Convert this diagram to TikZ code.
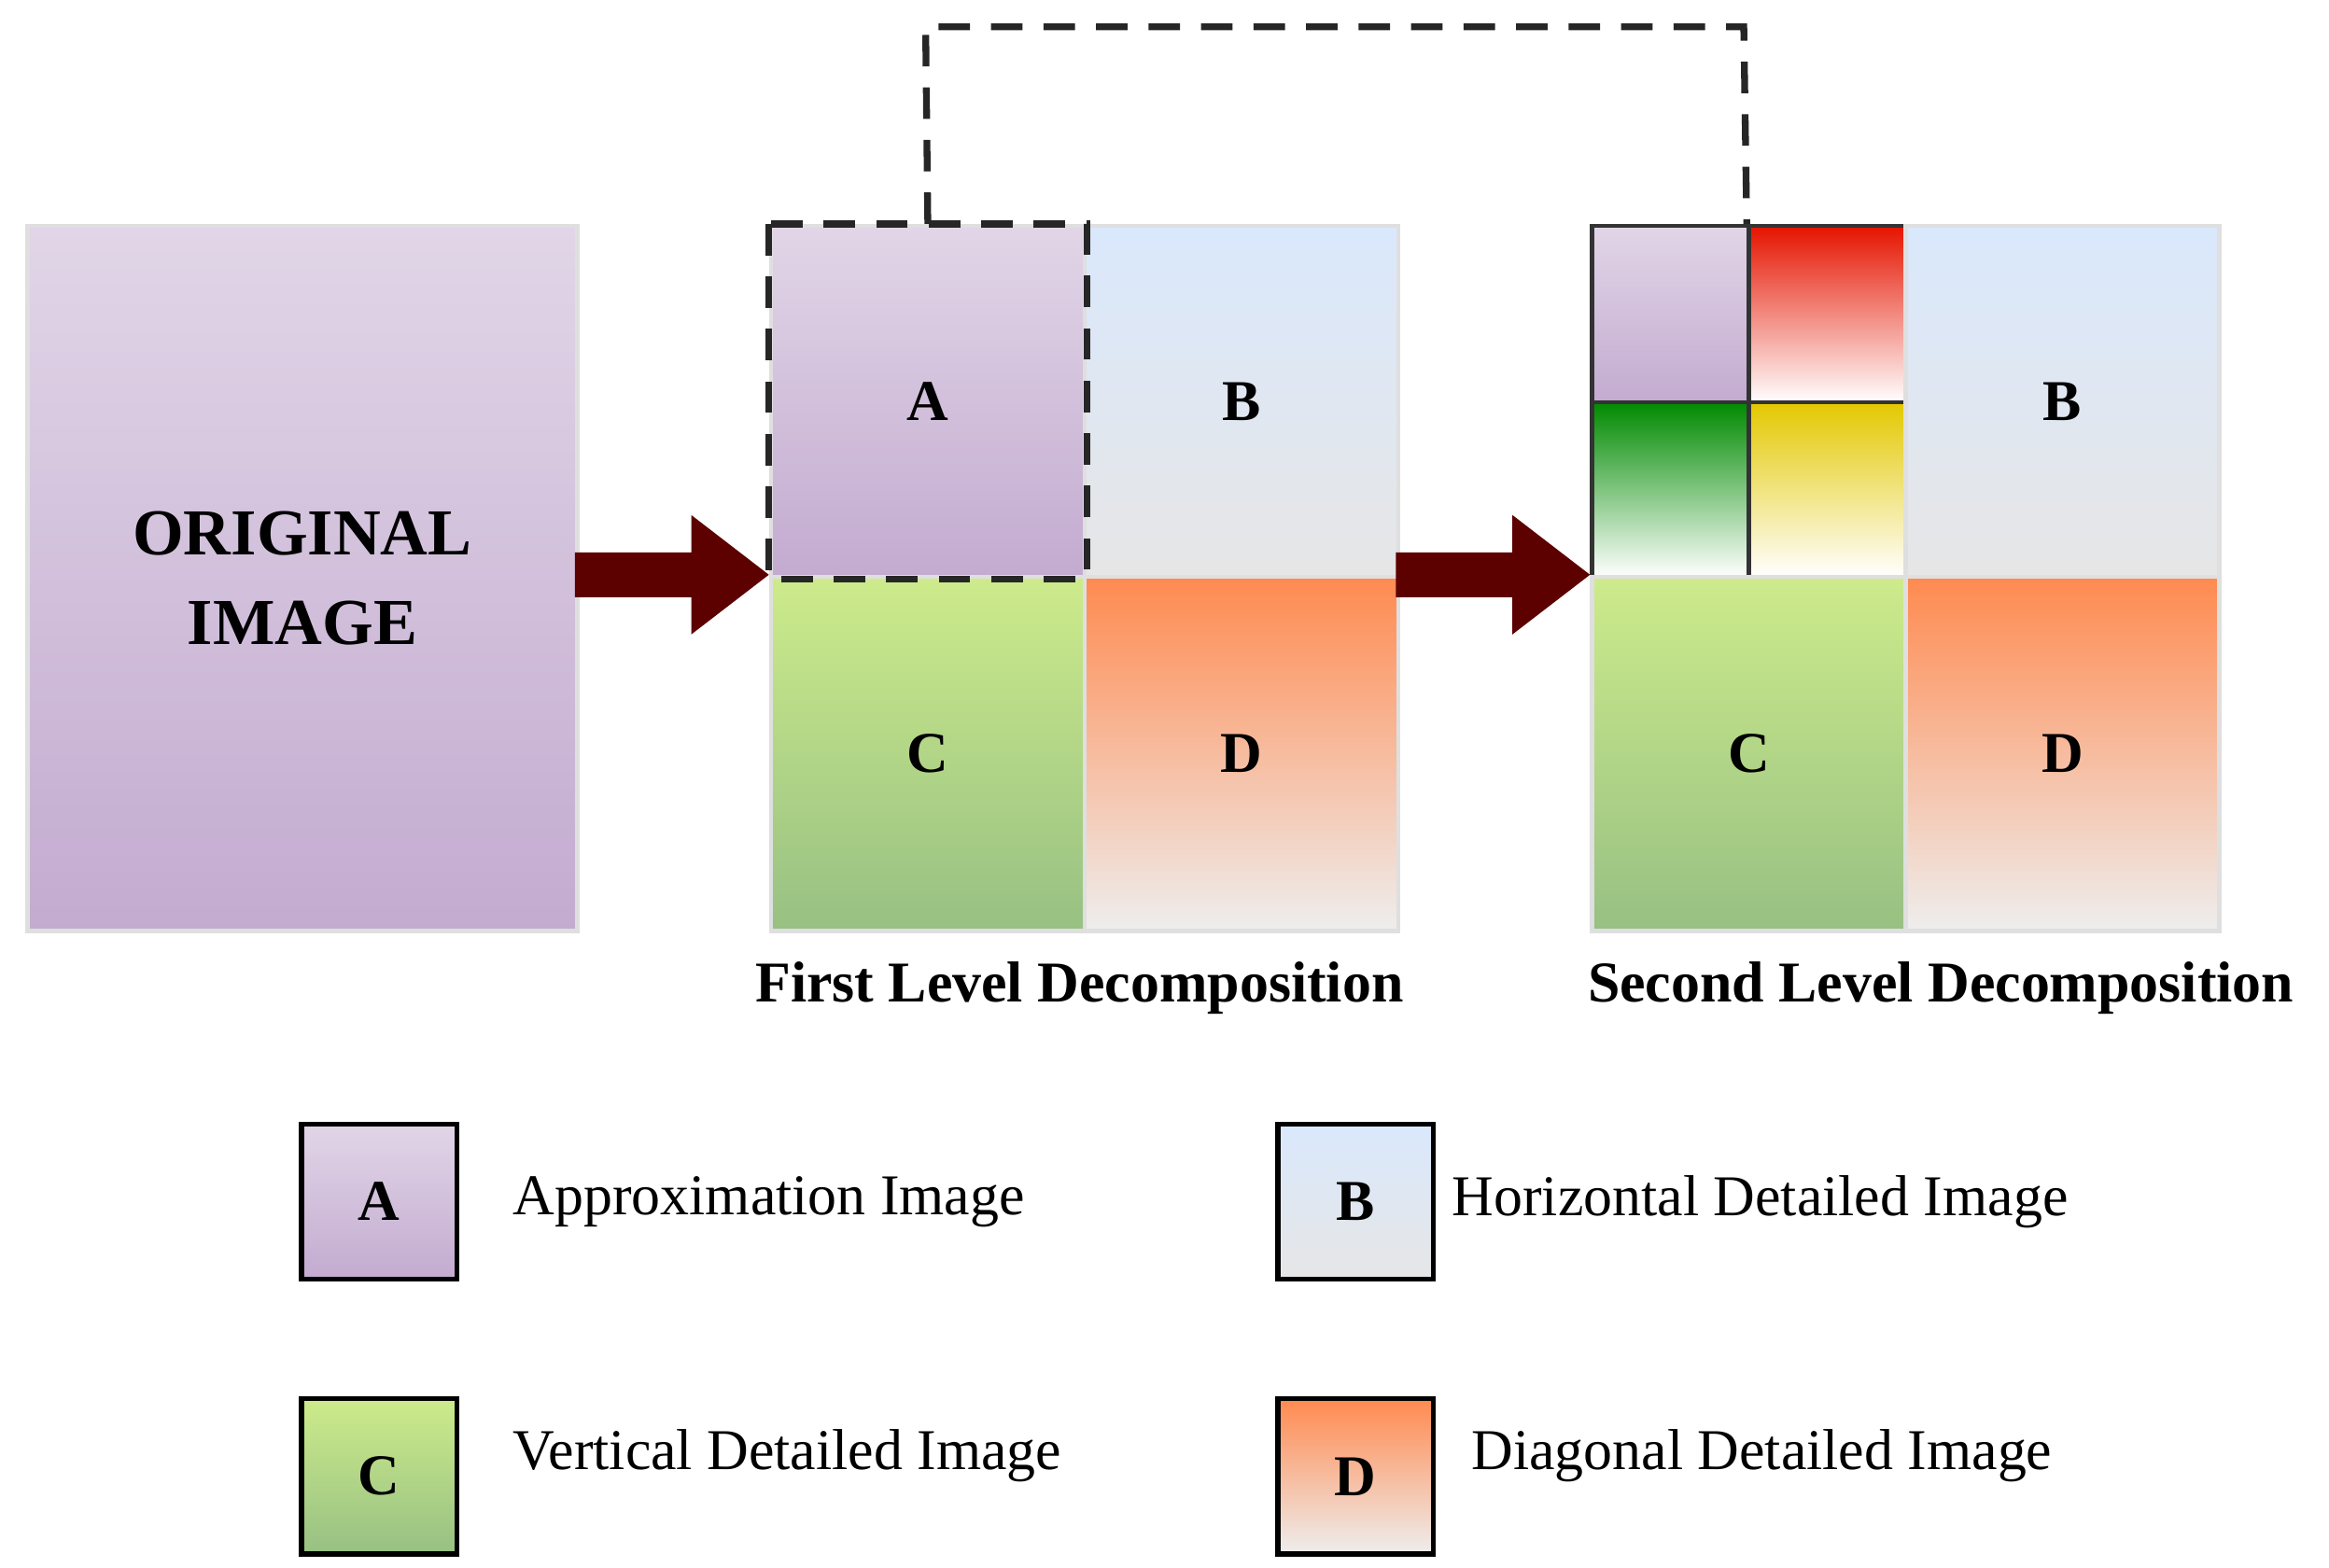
\documentclass[tikz,border=0pt]{standalone}
\usepackage{fontspec}
\setmainfont{Liberation Serif}
\definecolor{purpleT}{HTML}{E1D5E7}\definecolor{purpleB}{HTML}{C3ABD0}
\definecolor{blueT}{HTML}{DAE8FC}\definecolor{blueB}{HTML}{E6E6E6}
\definecolor{greenT}{HTML}{CDEB8B}\definecolor{greenB}{HTML}{97C083}
\definecolor{orangeT}{HTML}{FF8A50}\definecolor{orangeB}{HTML}{EEEEEE}
\definecolor{arrowred}{HTML}{5C0000}
\definecolor{redT}{HTML}{E51400}
\definecolor{grnT}{HTML}{008A00}
\definecolor{yelT}{HTML}{E3C800}
\begin{document}
\begin{tikzpicture}[x=0.01cm,y=-0.01cm,
  cell/.style={draw=gray!25,line width=0.8pt,inner sep=0,font=\fontsize{11}{13}\selectfont\bfseries},
  sub/.style={draw=black!80,line width=0.8pt,inner sep=0},
  leg/.style={draw=black,line width=0.9pt,inner sep=0,minimum width=1.04cm,minimum height=1.04cm,font=\fontsize{11}{13}\selectfont\bfseries},
  legtxt/.style={anchor=west,inner sep=0,font=\fontsize{11}{13}\selectfont},
  captxt/.style={font=\fontsize{11}{13}\selectfont\bfseries,inner sep=0},
  bigarrow/.style={draw=none,fill=arrowred},
  Ac/.style={top color=purpleT,bottom color=purpleB},
  Bc/.style={top color=blueT,bottom color=blueB},
  Cc/.style={top color=greenT,bottom color=greenB},
  Dc/.style={top color=orangeT,bottom color=orangeB},
  dashline/.style={dash pattern=on 6pt off 4pt,line width=1.3pt,draw=black!85}]
\useasboundingbox (0,0) rectangle (1560,1050);
% original
\node[cell,Ac,minimum width=3.68cm,minimum height=4.72cm,anchor=north west,font=\fontsize{12.5}{17}\selectfont\bfseries,align=center] (orig) at (17,150) {ORIGINAL\\IMAGE};
% level 1
\node[cell,Ac,minimum width=2.1cm,minimum height=2.35cm,anchor=north west] (a1) at (515,150) {A};
\node[cell,Bc,minimum width=2.1cm,minimum height=2.35cm,anchor=north west] (b1) at (725,150) {B};
\node[cell,Cc,minimum width=2.1cm,minimum height=2.37cm,anchor=north west] (c1) at (515,385) {C};
\node[cell,Dc,minimum width=2.1cm,minimum height=2.37cm,anchor=north west] (d1) at (725,385) {D};
% level 2
\node[sub,top color=purpleT,bottom color=purpleB,minimum width=1.05cm,minimum height=1.18cm,anchor=north west] (aa) at (1065,150) {};
\node[sub,top color=redT,bottom color=white,minimum width=1.05cm,minimum height=1.18cm,anchor=north west] (ab) at (1170,150) {};
\node[sub,top color=grnT,bottom color=white,minimum width=1.05cm,minimum height=1.17cm,anchor=north west] (ac) at (1065,268) {};
\node[sub,top color=yelT,bottom color=white,minimum width=1.05cm,minimum height=1.17cm,anchor=north west] (ad) at (1170,268) {};
\node[cell,Bc,minimum width=2.1cm,minimum height=2.35cm,anchor=north west] (b2) at (1275,150) {B};
\node[cell,Cc,minimum width=2.1cm,minimum height=2.37cm,anchor=north west] (c2) at (1065,385) {C};
\node[cell,Dc,minimum width=2.1cm,minimum height=2.37cm,anchor=north west] (d2) at (1275,385) {D};
% dashed
\draw[dashline] (a1.north west) rectangle (a1.south east);
\coordinate (t1) at (620,18); \coordinate (t2) at (1168,18);
\draw[dashline] (a1.north) -- (t1) -- (t2) -- (ab.north west);
% arrows
\fill[bigarrow] (385,370) -- (463,370) -- (463,345) -- (515,385) -- (463,425) -- (463,400) -- (385,400) -- cycle;
\fill[bigarrow] (935,370) -- (1013,370) -- (1013,345) -- (1065,385) -- (1013,425) -- (1013,400) -- (935,400) -- cycle;
% captions
\node[captxt] (cap1) at (723,662) {First Level Decomposition};
\node[captxt] (cap2) at (1300,662) {Second Level Decomposition};
% legend
\node[leg,Ac] (la) at (254,805) {A};
\node[leg,Bc] (lb) at (908,805) {B};
\node[leg,Cc] (lc) at (254,989) {C};
\node[leg,Dc] (ld) at (908,989) {D};
\node[legtxt] (ta) at (343,805) {Approximation Image};
\node[legtxt] (tb) at (972,805) {Horizontal Detailed Image};
\node[legtxt] (tc) at (343,975) {Vertical Detailed Image};
\node[legtxt] (td) at (985,975) {Diagonal Detailed Image};
\end{tikzpicture}
\end{document}
